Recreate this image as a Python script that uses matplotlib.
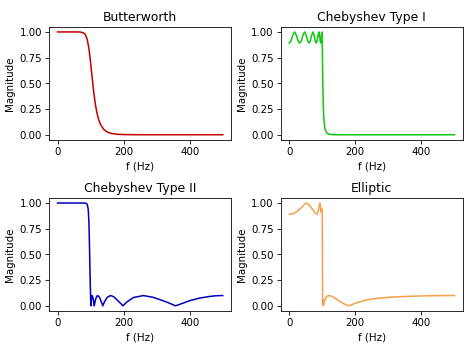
import matplotlib
matplotlib.use("Agg")
import matplotlib.pyplot as plt

# Butterworth
butter_f = [0, 50, 60, 70, 80, 85, 90, 95, 100, 105, 110, 115, 120, 125, 130, 140,
            150, 160, 180, 200, 250, 300, 400, 500]
butter_m = [1.0, 1.0, 0.9999, 0.9987, 0.9886, 0.9696, 0.9257, 0.840, 0.7071, 0.550,
            0.403, 0.286, 0.2017, 0.1419, 0.1005, 0.0514, 0.0273, 0.0149, 0.0047,
            0.0016, 0.0001, 0.0, 0.0, 0.0]

# Chebyshev Type I
cheb1_f = [0, 5.4, 10.8, 16.2, 21.4, 26.6, 31.8, 36.8, 41.7, 46.7, 51.2, 55.6, 60.1,
           64.0, 67.9, 71.8, 75.2, 78.5, 81.9, 84.5, 87.1, 89.7, 91.6, 93.5, 95.4,
           96.5, 97.6, 98.7, 99.1, 99.6, 100, 101, 102, 103, 104, 105, 106, 108, 110,
           113, 116, 120, 130, 150, 200, 300, 400, 500]
cheb1_m = [0.891, 0.915, 0.969, 1.0, 0.969, 0.915, 0.891, 0.915, 0.969, 1.0, 0.969,
           0.915, 0.891, 0.915, 0.969, 1.0, 0.969, 0.915, 0.891, 0.915, 0.969, 1.0,
           0.969, 0.915, 0.891, 0.915, 0.969, 1.0, 0.969, 0.915, 0.891, 0.653, 0.445,
           0.297, 0.207, 0.149, 0.110, 0.0635, 0.039, 0.0207, 0.0118, 0.006, 0.001,
           0.0, 0.0, 0.0, 0.0, 0.0]

# Chebyshev Type II
cheb2_f = [0, 50, 80, 85, 90, 93, 95, 96, 97, 98, 99, 100, 101.2, 102, 103, 104, 105,
           106, 108, 110, 111.3, 113, 116, 120, 124, 128, 132, 137.1, 142, 150, 160,
           170, 180, 190, 197.8, 210, 230, 260, 290, 320, 340, 357.2, 380, 400, 430,
           460, 480, 500]
cheb2_m = [1.0, 1.0, 1.0, 0.9989, 0.987, 0.937, 0.817, 0.695, 0.543, 0.378, 0.224,
           0.1, 0.0, 0.046, 0.080, 0.097, 0.0998, 0.094, 0.0645, 0.026, 0.0, 0.031,
           0.072, 0.098, 0.095, 0.076, 0.043, 0.0, 0.038, 0.081, 0.0999, 0.089, 0.058,
           0.027, 0.0, 0.038, 0.081, 0.0998, 0.082, 0.049, 0.024, 0.0, 0.026, 0.050,
           0.075, 0.091, 0.098, 0.1]

# Elliptic
ellip_f = [0, 10, 20, 30, 40, 46, 51, 56, 62, 70, 78, 84, 88, 91, 93, 95, 96.5, 98,
           99, 100, 101, 102, 103.5, 106, 110, 115, 121, 130, 140, 150, 160, 170, 180,
           190, 200, 225, 250, 300, 350, 400, 450, 500]
ellip_m = [0.891, 0.895, 0.91, 0.935, 0.965, 0.985, 1.0, 0.993, 0.975, 0.94, 0.905,
           0.891, 0.925, 0.975, 1.0, 0.96, 0.91, 0.945, 0.93, 0.89, 0.02, 0.06, 0.0,
           0.04, 0.075, 0.095, 0.1, 0.09, 0.07, 0.05, 0.03, 0.013, 0.0, 0.012, 0.025,
           0.05, 0.066, 0.083, 0.091, 0.096, 0.099, 0.1]

titles = ["Butterworth", "Chebyshev Type I", "Chebyshev Type II", "Elliptic"]
series = [(butter_f, butter_m), (cheb1_f, cheb1_m), (cheb2_f, cheb2_m), (ellip_f, ellip_m)]
colors = ["#c40000", "#10c810", "#0000c0", "#f7a04b"]

fig, axes = plt.subplots(2, 2, figsize=(6.4, 4.8), dpi=74)
for ax, title, (f, m), c in zip(axes.flat, titles, series, colors):
    ax.plot(f, m, color=c, linewidth=1.5)
    ax.set_title(title)
    ax.set_xlabel("f (Hz)")
    ax.set_ylabel("Magnitude")
    ax.set_xticks([0, 200, 400])
    ax.set_yticks([0.0, 0.25, 0.5, 0.75, 1.0])
fig.subplots_adjust(left=0.104, right=0.977, top=0.924, bottom=0.124,
                    wspace=0.275, hspace=0.513)
fig.savefig("out.png", dpi=74)
